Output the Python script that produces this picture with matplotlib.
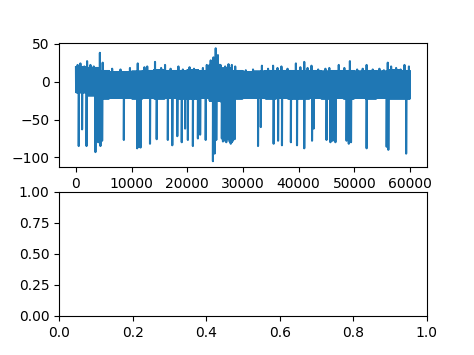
import matplotlib
matplotlib.use("Agg")
import matplotlib.pyplot as plt
import numpy as np

# Signal: a noisy band with narrow peaks and dips.
# band edges per 2000-sample segment
seg_len = 2000
band_top = [19, 18, 14, 12, 12, 13, 14, 15, 14, 14,
            15, 14, 22, 17, 14, 12, 13, 14, 14, 14,
            14, 14, 13, 14, 14, 13, 14, 13, 15, 14]
band_bottom = [-14, -18, -22, -21, -21, -22, -21, -22, -21, -22,
               -22, -21, -25, -26, -22, -21, -21, -22, -21, -22,
               -22, -21, -22, -21, -22, -21, -22, -21, -22, -22]

# upward peaks (sample, value)
peak_x = [300, 800, 1500, 2000, 2600, 3200, 4300, 4800, 6500, 8000,
          9700, 11100, 12300, 12800, 14200, 15300, 16000, 17000, 18400, 19200,
          20400, 21200, 22800, 23500, 24200, 24700, 25100, 25500, 26800, 27400,
          28000, 28600, 30500, 31800, 33400, 34500, 35400, 36200, 36900, 38000,
          39500, 40300, 41000, 41600, 42300, 43500, 44800, 45500, 47200, 48200,
          49200, 50500, 51500, 52200, 53300, 54500, 55300, 56000, 56600, 57500,
          58300, 59000, 59800]
peak_y = [22, 24, 20, 27, 22, 20, 38, 25, 17, 16,
          18, 24, 19, 20, 26, 18, 22, 17, 20, 16,
          19, 17, 18, 22, 28, 32, 44, 35, 20, 23,
          22, 20, 15, 16, 21, 17, 21, 18, 20, 17,
          24, 19, 26, 18, 21, 16, 17, 18, 22, 18,
          27, 16, 17, 22, 16, 17, 15, 25, 20, 18,
          16, 22, 20]

# downward dips (sample, value)
dip_x = [500, 1100, 1900, 3500, 4000, 4400, 4700, 8600, 11000, 11300,
         11600, 13300, 14500, 16500, 17300, 18200, 19000, 19600, 20100, 21000,
         21900, 22300, 23300, 24600, 24900, 25200, 26200, 26400, 26600, 26800,
         27000, 27200, 27400, 27600, 27800, 28000, 28200, 28500, 32700, 33200,
         35500, 36300, 37000, 38600, 39700, 41000, 42400, 42700, 45000, 45700,
         46100, 46600, 48600, 49000, 49400, 52200, 55800, 56100, 59300]
dip_y = [-85, -63, -85, -93, -80, -85, -78, -77, -88, -86,
         -87, -82, -76, -77, -84, -72, -80, -62, -77, -85,
         -75, -70, -77, -105, -95, -77, -75, -79, -78, -77,
         -80, -76, -74, -79, -82, -80, -78, -76, -85, -60,
         -82, -78, -84, -80, -84, -88, -78, -62, -77, -80,
         -78, -80, -78, -82, -80, -88, -86, -90, -95]

n_samples = 60000
step = 25

# build the dense band: alternate top / bottom edge of each segment
xs = np.arange(0, n_samples, step)
seg = xs // seg_len
tops = np.array(band_top)[seg]
bots = np.array(band_bottom)[seg]
ys = np.where(np.arange(len(xs)) % 2 == 0, tops, bots)

# merge in peaks and dips
all_x = np.concatenate([xs, peak_x, dip_x]).astype(float)
all_y = np.concatenate([ys, peak_y, dip_y]).astype(float)
order = np.argsort(all_x, kind="stable")
all_x = all_x[order]
all_y = all_y[order]

fig, (ax1, ax2) = plt.subplots(2, 1, figsize=(4.74, 3.55), dpi=100)
ax1.plot(all_x, all_y)

fig.savefig("out.png", dpi=100)
